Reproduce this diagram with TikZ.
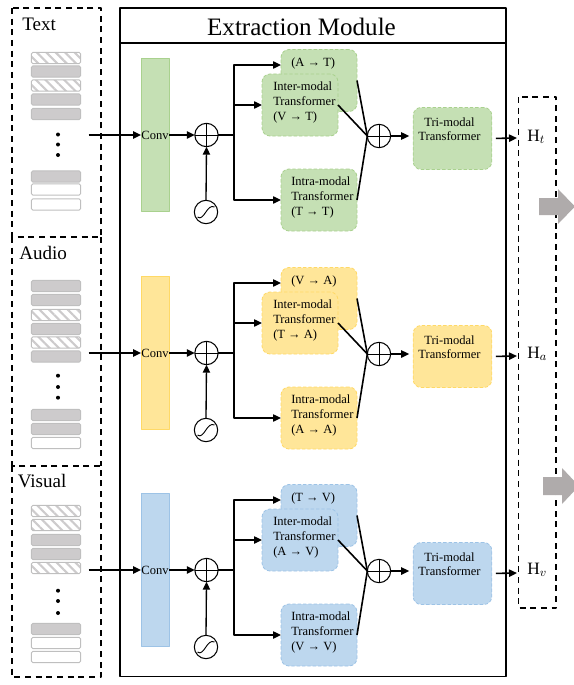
\documentclass[tikz,border=0pt]{standalone}
\usepackage{fontspec}
\setmainfont{Liberation Serif}
\usepackage{tikz}
\usetikzlibrary{arrows.meta,calc,patterns.meta}
\definecolor{greenfill}{HTML}{C5E0B4}
\definecolor{greenline}{HTML}{A9D18E}
\definecolor{yellowfill}{HTML}{FFE699}
\definecolor{yellowline}{HTML}{FFD966}
\definecolor{bluefill}{HTML}{BDD7EE}
\definecolor{blueline}{HTML}{9DC3E6}
\definecolor{barfill}{HTML}{CDCBCC}
\definecolor{barline}{HTML}{BFBFBF}
\definecolor{bigarrow}{HTML}{AFABAB}
\tikzset{
  barbase/.style={rectangle,draw=barline,line width=0.7pt,rounded corners=1.2pt,minimum width=37pt,minimum height=8.5pt,inner sep=0pt,outer sep=0pt},
  graybar/.style={barbase,fill=barfill},
  whitebar/.style={barbase,fill=white},
  hatchbar/.style={barbase,pattern={Lines[angle=-45,distance=5pt,line width=1.6pt]},pattern color=barfill},
  dotmark/.style={circle,fill=black,minimum size=3pt,inner sep=0pt},
  modbox/.style={rectangle,dashed,dash pattern=on 2.5pt off 1.5pt,line width=0.6pt,rounded corners=6pt,minimum width=57pt,minimum height=46.5pt,inner sep=0pt,outer sep=0pt},
  modtxt/.style={anchor=west,align=left,inner sep=0pt,font=\fontsize{9.4}{10.9}\selectfont},
  collabel/.style={anchor=west,inner sep=0pt,font=\fontsize{14.3}{16}\selectfont},
  outlabel/.style={anchor=west,inner sep=0pt,font=\fontsize{13}{15}\selectfont},
  opcirc/.style={circle,draw,line width=0.8pt,minimum size=17.5pt,inner sep=0pt,outer sep=0pt},
  boxline/.style={line width=1.2pt},
  dashbox/.style={line width=1.1pt,dash pattern=on 4.5pt off 3.5pt}
}
\begin{document}
\begin{tikzpicture}[x=0.75pt,y=-0.75pt,>={Stealth[length=6pt,width=5.5pt,inset=0pt]},line join=round]
\useasboundingbox (0,0) rectangle (574,685);
% --- input columns
\draw[dashbox] (12,8) rectangle (101,237);
\draw[dashbox] (12,237) -- (12,466) (101,237) -- (101,466);
\draw[dashbox] (12,466) rectangle (101,677);
\node[collabel] (textlabel) at (22,24) {Text};
\node[collabel] (audiolabel) at (19,253) {Audio};
\node[collabel] (visuallabel) at (17.5,481) {Visual};
\foreach \y/\k in {58/hatchbar,71.5/graybar,85.5/hatchbar,99.5/graybar,114/graybar,176.5/graybar,189.5/whitebar,204.5/whitebar,
  286/graybar,300/graybar,315/hatchbar,329/graybar,342.5/hatchbar,356.5/graybar,415/graybar,429/graybar,443/whitebar,
  511/hatchbar,525/hatchbar,540/graybar,554/graybar,568/hatchbar,629/graybar,643/whitebar,657/whitebar}
  \node[\k] (bar\y) at (56,\y) {};
\foreach \y in {134.5,144.5,155,375.7,387,397.7,590.7,601,613} \node[dotmark] (dot\y) at (58,\y) {};
% --- extraction module
\draw[boxline] (120,8) rectangle (506,676.5);
\draw[boxline] (120,43) -- (506,43);
\node[inner sep=0pt,font=\fontsize{18.8}{20}\selectfont] (title) at (301.5,27) {Extraction Module};
% --- one row per modality
\foreach \rowy/\m/\fc/\bc/\la/\lb/\lc in {
  0/t/greenfill/greenline/{(A → T)}/{(V → T)}/{(T → T)},
  218/a/yellowfill/yellowline/{(V → A)}/{(T → A)}/{(A → A)},
  435/v/bluefill/blueline/{(T → V)}/{(A → V)}/{(V → V)}}{
\begin{scope}[shift={(0,\rowy)}]
\node[rectangle,draw=\bc,fill=\fc,line width=0.6pt,minimum width=21pt,minimum height=114.5pt,inner sep=0pt,outer sep=0pt,font=\fontsize{9.4}{10.9}\selectfont] (conv\m) at (155,135) {Conv};
\node[opcirc] (plus\m) at (206.5,135) {};
\draw[line width=0.7pt] (plus\m.north) -- (plus\m.south) (plus\m.west) -- (plus\m.east);
\node[opcirc] (osc\m) at (206,212) {};
\draw[line width=0.7pt] (197.5,217) .. controls (204,222) and (207,203) .. (214.5,207);
\coordinate (in\m) at (88.5,135);
\coordinate (spine\m) at (234,135);
\coordinate (topin\m) at (281,65);
\coordinate (out\m) at (517,138);
% transformers
\node[modbox,draw=\bc,fill=\fc] (top\m) at (319,80.5) {};
\node[modbox,draw=\bc,fill=\fc] (inter\m) at (300,105) {};
\node[modbox,draw=\bc,fill=\fc] (intra\m) at (319,200) {};
\node[modbox,draw=\bc,fill=\fc,minimum width=59pt] (tri\m) at (452.5,138.5) {};
\node[modtxt] (toptxt\m) at (291,63) {\la};
\node[modtxt] (intertxt\m) at (273,102.5) {Inter-modal\\Transformer\\\lb};
\node[modtxt] (intratxt\m) at (291,197.5) {Intra-modal\\Transformer\\\lc};
\node[modtxt,anchor=center,align=center] (tritxt\m) at (449.5,129) {Tri-modal\\Transformer};
\node[opcirc] (join\m) at (379,136) {};
\draw[line width=0.7pt] (join\m.north) -- (join\m.south) (join\m.west) -- (join\m.east);
% connectors
\draw[->,boxline] (in\m) -- (conv\m.west);
\draw[->,line width=1pt] (conv\m.east) -- (plus\m.west);
\draw[->,line width=1pt] (osc\m.north) -- (plus\m.south);
\draw[line width=1pt] (plus\m.east) -- (spine\m);
\draw[->,line width=1pt] (spine\m) |- (topin\m);
\draw[->,line width=1pt] (spine\m) |- (inter\m.west);
\draw[->,line width=1pt] (spine\m) |- (intra\m.west);
\draw[boxline] (top\m.east) -- (join\m.west);
\draw[boxline] (inter\m.east) -- (join\m.west);
\draw[boxline] (intra\m.east) -- (join\m.west);
\draw[->,boxline,shorten >=3pt] (join\m.east) -- (join\m.east -| tri\m.west);
\draw[->,boxline,shorten <=3pt] (tri\m.east) -- (out\m);
\end{scope}
}
% --- output column
\draw[dashbox] (518.5,97) rectangle (556,608);
\node[outlabel] (Ht) at (527,137) {H$_{t}$};
\node[outlabel] (Ha) at (527,354) {H$_{a}$};
\node[outlabel] (Hv) at (527,570) {H$_{v}$};
\fill[bigarrow] (539,198) -- (558,198) -- (558,189) -- (575,206.5) -- (558,224) -- (558,215) -- (539,215) -- cycle;
\fill[bigarrow] (543,477) -- (562,477) -- (562,468) -- (579,486) -- (562,504) -- (562,495) -- (543,495) -- cycle;
\end{tikzpicture}
\end{document}
